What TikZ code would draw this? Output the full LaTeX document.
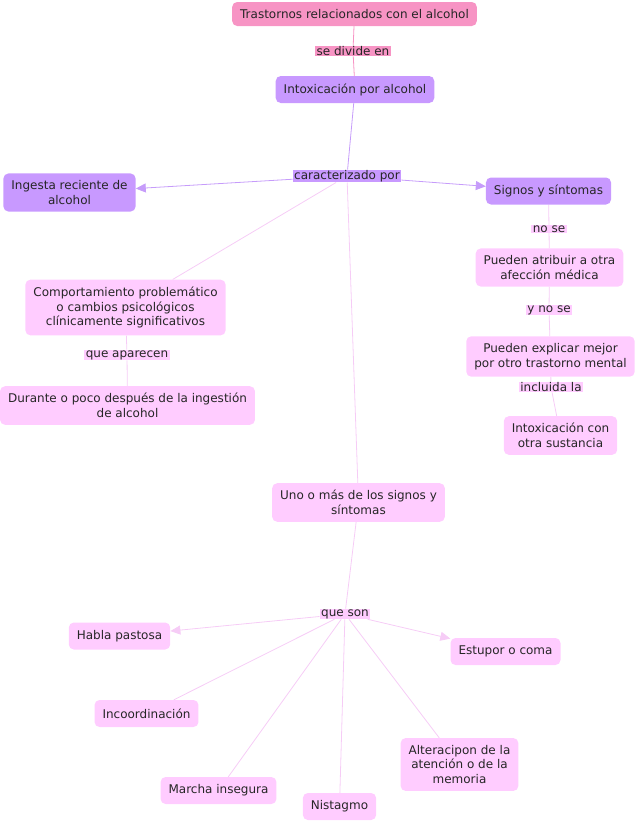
\documentclass[tikz,border=0pt]{standalone}
\usepackage{fontspec}
\setmainfont{DejaVu Sans}
\usetikzlibrary{arrows.meta, backgrounds}
\definecolor{rosafuerte}{RGB}{247,148,196}
\definecolor{lila}{RGB}{200,153,255}
\definecolor{rosaclaro}{RGB}{255,204,255}
\definecolor{linealila}{RGB}{198,156,250}
\definecolor{linearosa}{RGB}{246,204,246}
\tikzset{
    concepto/.style={
        rectangle, rounded corners=5pt,
        text centered, align=center,
        font=\fontsize{12}{14.8}\selectfont,
        inner xsep=8pt, inner ysep=7pt,
        minimum height=27pt,
        text=black!85,
    },
    raiz/.style={concepto, fill=rosafuerte, inner ysep=5pt, minimum height=24pt},
    tema/.style={concepto, fill=lila},
    hoja/.style={concepto, fill=rosaclaro},
    enlace/.style={
        rectangle, inner xsep=1.5pt, inner ysep=0.5pt,
        font=\fontsize{12}{13}\selectfont,
        text=black!85,
    },
    enlaceraiz/.style={enlace, fill=rosafuerte},
    enlacetema/.style={enlace, fill=lila},
    enlacehoja/.style={enlace, fill=rosaclaro},
    lrosa/.style={line width=0.8pt, color=rosafuerte},
    llila/.style={line width=0.8pt, color=linealila},
    lclaro/.style={line width=0.8pt, color=linearosa},
    flecha/.style={-{Triangle[length=10pt,width=9pt]}},
}

\begin{document}
\begin{tikzpicture}[x=1pt, y=-1pt]

    \useasboundingbox (0,0) rectangle (638,822);

    % ── Root ──
    \node[raiz] (trastornos) at (354.5, 14) {Trastornos relacionados con el alcohol};
    \node[enlaceraiz] (divide) at (353, 51) {se divide en};
    \node[tema] (intox) at (355, 89.5) {Intoxicación por alcohol};

    % ── Second level ──
    \node[enlacetema] (caract) at (347, 176) {caracterizado por};
    \node[tema] (ingesta) at (69.5, 192.5) {Ingesta reciente de\\alcohol};
    \node[tema] (signos)  at (548.5, 191)  {Signos y síntomas};

    % ── Right column ──
    \node[enlacehoja] (nose)     at (549, 229)     {no se};
    \node[hoja]       (atribuir) at (549.5, 267.5) {Pueden atribuir a otra\\afección médica};
    \node[enlacehoja] (ynose)    at (549, 310)     {y no se};
    \node[hoja]       (explicar) at (550.5, 356.5) {Pueden explicar mejor\\por otro trastorno mental};
    \node[enlacehoja] (incluida) at (551, 387)     {incluida la};
    \node[hoja]       (otra)     at (560.5, 435.5) {Intoxicación con\\otra sustancia};

    % ── Left column ──
    \node[hoja]       (comport)  at (125.5, 307.5) {Comportamiento problemático\\o cambios psicológicos\\clínicamente significativos};
    \node[enlacehoja] (aparecen) at (127, 355)     {que aparecen};
    \node[hoja]       (durante)  at (127.5, 405.5) {Durante o poco después de la ingestión\\de alcohol};

    % ── Signs ──
    \node[hoja]       (uno)      at (358.5, 502.5) {Uno o más de los signos y\\síntomas};
    \node[enlacehoja] (queson)   at (345, 614)     {que son};
    \node[hoja] (habla)    at (119.5, 636)   {Habla pastosa};
    \node[hoja] (estupor)  at (505.5, 651.5) {Estupor o coma};
    \node[hoja] (incoord)  at (146.5, 713.5) {Incoordinación};
    \node[hoja] (altera)   at (459.5, 764.5) {Alteracipon de la\\atención o de la\\memoria};
    \node[hoja] (marcha)   at (218.5, 790.5) {Marcha insegura};
    \node[hoja] (nistagmo) at (339.5, 806.5) {Nistagmo};

    % ── Connectors ──
    \begin{scope}[on background layer]
        \draw[lrosa] (trastornos) -- (divide);
        \draw[lrosa] (divide) -- (intox);
        \draw[llila] (intox) -- (caract);
        \draw[llila, flecha] (caract) -- (ingesta);
        \draw[llila, flecha] (caract) -- (signos);
        \draw[lclaro] (caract) -- (comport);
        \draw[lclaro] (caract) -- (uno);

        \draw[lclaro] (signos) -- (nose);
        \draw[lclaro] (nose) -- (atribuir);
        \draw[lclaro] (atribuir) -- (ynose);
        \draw[lclaro] (ynose) -- (explicar);
        \draw[lclaro] (explicar) -- (incluida);
        \draw[lclaro] (incluida) -- (otra);

        \draw[lclaro] (comport) -- (aparecen);
        \draw[lclaro] (aparecen) -- (durante);

        \draw[lclaro] (uno) -- (queson);
        \draw[lclaro, flecha] (queson) -- (habla);
        \draw[lclaro, flecha] (queson) -- (estupor);
        \draw[lclaro] (queson) -- (incoord);
        \draw[lclaro] (queson) -- (marcha);
        \draw[lclaro] (queson) -- (nistagmo);
        \draw[lclaro] (queson) -- (altera);
    \end{scope}

\end{tikzpicture}
\end{document}
